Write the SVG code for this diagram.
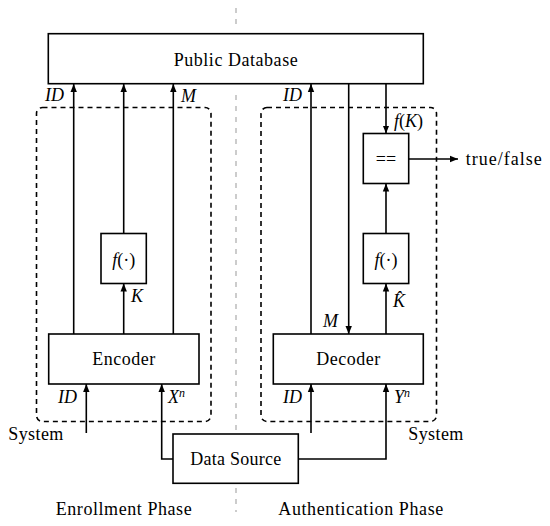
<svg xmlns="http://www.w3.org/2000/svg" width="550" height="526" viewBox="0 0 550 526">
<style>
.box{fill:#fff;stroke:#000;stroke-width:1.6}
.grp{fill:none;stroke:#000;stroke-width:1.6;stroke-dasharray:5,4}
.ln{fill:none;stroke:#000;stroke-width:1.6}
.cl{fill:none;stroke:#999;stroke-width:1;stroke-dasharray:5,6}
text{font-family:"Liberation Serif","Times New Roman",serif;font-size:18px;fill:#000}
.c{text-anchor:middle}
.m{font-style:italic;font-size:18px}
.u{font-style:normal}
</style>
<defs>
<marker id="ah" viewBox="0 0 10 10" refX="10" refY="5" markerWidth="8" markerHeight="8" markerUnits="userSpaceOnUse" orient="auto">
<path d="M0,1 L10,5 L0,9 Z" fill="#000"/>
</marker>
</defs>
<g id="centerline">
<line class="cl" x1="236" y1="8" x2="236" y2="30"/>
<line class="cl" x1="236" y1="95" x2="236" y2="432"/>
<line class="cl" x1="236" y1="488" x2="236" y2="512"/>
</g>
<g id="enroll-system"><rect class="grp" x="36.5" y="107.5" width="174.5" height="314" rx="6"/></g>
<g id="auth-system"><rect class="grp" x="261" y="107.5" width="175.5" height="314" rx="6"/></g>
<g id="connectors">
<line class="ln" x1="73.7" y1="334" x2="73.7" y2="84" marker-end="url(#ah)"/>
<line class="ln" x1="123.7" y1="233.5" x2="123.7" y2="84" marker-end="url(#ah)"/>
<line class="ln" x1="123.7" y1="334" x2="123.7" y2="283.5" marker-end="url(#ah)"/>
<line class="ln" x1="173.3" y1="334" x2="173.3" y2="84" marker-end="url(#ah)"/>
<line class="ln" x1="311" y1="334" x2="311" y2="84" marker-end="url(#ah)"/>
<line class="ln" x1="348.7" y1="84" x2="348.7" y2="334" marker-end="url(#ah)"/>
<line class="ln" x1="386" y1="84" x2="386" y2="133.5" marker-end="url(#ah)"/>
<line class="ln" x1="386" y1="233.5" x2="386" y2="183.5" marker-end="url(#ah)"/>
<line class="ln" x1="386" y1="334" x2="386" y2="283.5" marker-end="url(#ah)"/>
<line class="ln" x1="408.7" y1="159" x2="458" y2="159" marker-end="url(#ah)"/>
<line class="ln" x1="86.3" y1="433" x2="86.3" y2="384" marker-end="url(#ah)"/>
<polyline class="ln" points="173,459 161.7,459 161.7,384" marker-end="url(#ah)"/>
<line class="ln" x1="311" y1="433" x2="311" y2="384" marker-end="url(#ah)"/>
<polyline class="ln" points="298.3,459 386,459 386,384" marker-end="url(#ah)"/>
</g>
<g id="public-database">
<rect class="box" x="48.3" y="33.7" width="375" height="50"/>
<text class="c" x="235.7" y="65.5" textLength="124">Public Database</text>
</g>
<g id="encoder">
<rect class="box" x="48.7" y="334" width="150.3" height="50"/>
<text class="c" x="123.8" y="365" textLength="63">Encoder</text>
</g>
<g id="f-enc">
<rect class="box" x="101" y="233.5" width="45.3" height="50"/>
<text class="c m" x="123.7" y="266">f<tspan class="u">(·)</tspan></text>
</g>
<g id="decoder">
<rect class="box" x="273.3" y="334" width="150" height="50"/>
<text class="c" x="348.3" y="365" textLength="64">Decoder</text>
</g>
<g id="f-dec">
<rect class="box" x="363.3" y="233.5" width="45.4" height="50"/>
<text class="c m" x="386" y="266">f<tspan class="u">(·)</tspan></text>
</g>
<g id="compare">
<rect class="box" x="363.3" y="133.5" width="45.4" height="50"/>
<text class="c" x="386" y="165">==</text>
</g>
<g id="data-source">
<rect class="box" x="173" y="434" width="125.3" height="49.3"/>
<text class="c" x="235.7" y="464.5" textLength="91">Data Source</text>
</g>
<g id="labels">
<text class="m" x="45" y="101">ID</text>
<text class="m" x="181" y="102">M</text>
<text class="m" x="131" y="302">K</text>
<text class="m" x="283" y="101">ID</text>
<text class="m" x="394" y="127">f<tspan class="u">(</tspan>K<tspan class="u">)</tspan></text>
<text x="465.7" y="165" textLength="76">true/false</text>
<text class="m" x="323" y="327">M</text>
<text class="m" x="393" y="307">K&#x302;</text>
<text class="m" x="58" y="403">ID</text>
<text class="m" x="168" y="403">X<tspan dy="-6" style="font-size:12px">n</tspan></text>
<text class="m" x="283" y="403">ID</text>
<text class="m" x="394" y="403">Y<tspan dy="-6" style="font-size:12px">n</tspan></text>
<text x="8.3" y="440" textLength="55">System</text>
<text x="408.3" y="440" textLength="55">System</text>
<text x="55.7" y="515" textLength="136">Enrollment Phase</text>
<text x="278.3" y="515" textLength="165">Authentication Phase</text>
</g>
</svg>
